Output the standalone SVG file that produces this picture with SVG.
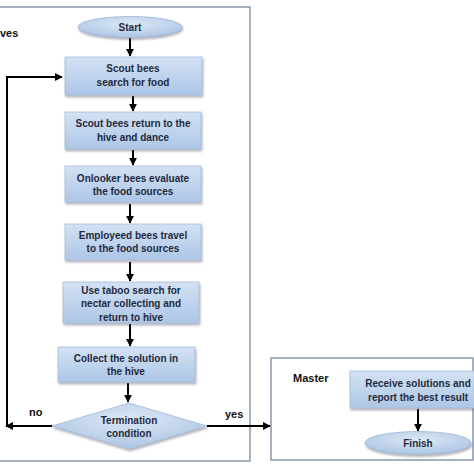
<svg xmlns="http://www.w3.org/2000/svg" width="474" height="474" viewBox="0 0 474 474">
<style>
.frame{fill:none;stroke:#8a96a8;stroke-width:1.5}
.box{fill:url(#gb);stroke:#a8bcd8;stroke-width:0.8;filter:url(#sh)}
.t{font-family:"Liberation Sans",Arial,sans-serif;font-weight:bold;font-size:10px;fill:#1f2a3f;text-anchor:middle}
.lbl{font-family:"Liberation Sans",Arial,sans-serif;font-weight:bold;font-size:11px;fill:#111}
.ln{fill:none;stroke:#000;stroke-width:2}
</style>
<defs>
<linearGradient id="gb" x1="0" y1="0" x2="0" y2="1">
<stop offset="0" stop-color="#d3e2f4"/>
<stop offset="1" stop-color="#adc6e6"/>
</linearGradient>
<radialGradient id="ge" cx="0.5" cy="0.35" r="0.7">
<stop offset="0" stop-color="#dde8f6"/>
<stop offset="1" stop-color="#a9c2e2"/>
</radialGradient>
<filter id="sh" x="-10%" y="-10%" width="125%" height="140%">
<feDropShadow dx="1" dy="2" stdDeviation="1.2" flood-color="#556" flood-opacity="0.45"/>
</filter>
<marker id="ah" viewBox="0 0 10 10" refX="9" refY="5" markerWidth="4" markerHeight="4" orient="auto">
<path d="M0,0 L10,5 L0,10 z" fill="#000"/>
</marker>
</defs>

<g id="containers">
<rect class="frame" x="-5" y="7" width="255" height="454"/>
<rect class="frame" x="271" y="358" width="202" height="102"/>
<text class="lbl" x="0" y="37">ves</text>
<text class="lbl" x="293" y="382">Master</text>
</g>

<g id="connectors">
<line class="ln" x1="130" y1="38" x2="130" y2="56" marker-end="url(#ah)"/>
<line class="ln" x1="133" y1="96" x2="133" y2="111" marker-end="url(#ah)"/>
<line class="ln" x1="133" y1="150" x2="133" y2="165" marker-end="url(#ah)"/>
<line class="ln" x1="130" y1="204" x2="130" y2="223" marker-end="url(#ah)"/>
<line class="ln" x1="130" y1="262" x2="130" y2="281" marker-end="url(#ah)"/>
<line class="ln" x1="130" y1="324" x2="130" y2="346" marker-end="url(#ah)"/>
<line class="ln" x1="128" y1="383" x2="128" y2="402" marker-end="url(#ah)"/>
<line class="ln" x1="52" y1="426" x2="6" y2="426" marker-end="url(#ah)"/>
<polyline class="ln" points="7,426 7,77 62,77" marker-end="url(#ah)"/>
<line class="ln" x1="207" y1="426" x2="270" y2="426" stroke-width="2.6" marker-end="url(#ah)"/>
<line class="ln" x1="418" y1="409" x2="418" y2="431" marker-end="url(#ah)"/>
<text class="lbl" x="29" y="416">no</text>
<text class="lbl" x="225" y="418">yes</text>
</g>

<g id="start">
<ellipse cx="130" cy="27" rx="52" ry="10.5" fill="url(#ge)" stroke="#9fb6d6" stroke-width="0.8" filter="url(#sh)"/>
<text class="t" x="130" y="31" font-size="11">Start</text>
</g>

<g id="scout">
<rect class="box" x="65" y="57" width="137" height="38"/>
<text class="t" x="133" y="72">Scout bees</text>
<text class="t" x="133" y="86">search for food</text>
</g>

<g id="return">
<rect class="box" x="65" y="112" width="136" height="37"/>
<text class="t" x="133" y="127">Scout bees return to the</text>
<text class="t" x="133" y="141">hive and dance</text>
</g>

<g id="onlooker">
<rect class="box" x="65" y="166" width="136" height="36"/>
<text class="t" x="133" y="182">Onlooker bees evaluate</text>
<text class="t" x="133" y="195">the food sources</text>
</g>

<g id="employed">
<rect class="box" x="65" y="224" width="136" height="36"/>
<text class="t" x="133" y="239">Employeed bees travel</text>
<text class="t" x="133" y="252">to the food sources</text>
</g>

<g id="taboo">
<rect class="box" x="63" y="282" width="136" height="41"/>
<text class="t" x="131" y="294">Use taboo search for</text>
<text class="t" x="131" y="307">nectar collecting and</text>
<text class="t" x="131" y="321">return to hive</text>
</g>

<g id="collect">
<rect class="box" x="58" y="347" width="137" height="35"/>
<text class="t" x="126" y="362">Collect the solution in</text>
<text class="t" x="126" y="375">the hive</text>
</g>

<g id="termination">
<polygon points="52,426 129,403 207,426 129,449" fill="url(#ge)" stroke="#a8bcd8" stroke-width="0.8" filter="url(#sh)"/>
<text class="t" x="129" y="424">Termination</text>
<text class="t" x="129" y="437">condition</text>
</g>

<g id="receive">
<rect class="box" x="350" y="371" width="124" height="37"/>
<text class="t" x="418" y="387">Receive solutions and</text>
<text class="t" x="418" y="401">report the best result</text>
</g>

<g id="finish">
<ellipse cx="418" cy="443" rx="53" ry="11.5" fill="url(#ge)" stroke="#9fb6d6" stroke-width="0.8" filter="url(#sh)"/>
<text class="t" x="418" y="447" font-size="11.5">Finish</text>
</g>
</svg>
